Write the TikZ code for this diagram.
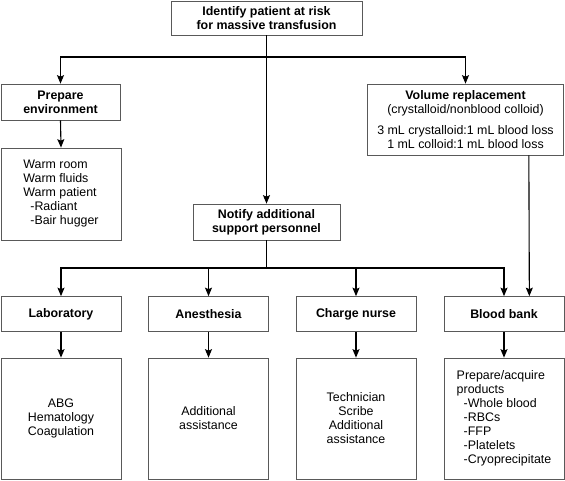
\documentclass[tikz,border=0pt]{standalone}
\usepackage{fontspec}
\setmainfont{Liberation Sans}
\usetikzlibrary{arrows.meta}

\begin{document}
\begin{tikzpicture}[x=1pt, y=-1pt,
    box/.style={draw=black!65, line width=0.7pt, rectangle, inner sep=2pt, align=center, font=\fontsize{12.4}{14}\selectfont},
    head/.style={box, font=\fontsize{12.4}{14}\selectfont\bfseries},
    arr/.style={line width=1.1pt, -{Stealth[length=8.5pt, width=7pt, inset=1.5pt]}}]
    \useasboundingbox (0,0) rectangle (565,480);
    % Top of the chart
    \node[head, minimum width=191pt, minimum height=34pt] (ident) at (266.5,18) {Identify patient at risk\\for massive transfusion};
    \node[head, minimum width=119pt, minimum height=36pt] (prep) at (60.5,102) {Prepare\\environment};
    \node[box, minimum width=120pt, minimum height=92pt, align=left] (warm) at (61,194)
      {Warm room\\Warm fluids\\Warm patient\\\hspace*{7pt}-Radiant\\\hspace*{7pt}-Bair hugger};
    \node[box, minimum width=196pt, minimum height=71pt] (vol) at (465.5,119.5)
      {\textbf{Volume replacement}\\(crystalloid/nonblood colloid)\\[7pt]3 mL crystalloid:1 mL blood loss\\1 mL colloid:1 mL blood loss};
    \node[head, minimum width=147pt, minimum height=36pt] (notify) at (266.5,222) {Notify additional\\support personnel};
    % Departments
    \node[head, minimum width=120pt, minimum height=35pt] (lab) at (61,314) {Laboratory};
    \node[head, minimum width=120pt, minimum height=35pt] (anes) at (208.5,314) {Anesthesia};
    \node[head, minimum width=120pt, minimum height=35pt] (charge) at (356,314) {Charge nurse};
    \node[head, minimum width=120pt, minimum height=35pt] (bank) at (504,314) {Blood bank};
    \node[box, minimum width=120pt, minimum height=121pt] (labtxt) at (61,418.5) {ABG\\Hematology\\Coagulation};
    \node[box, minimum width=120pt, minimum height=121pt] (anestxt) at (208.5,418.5) {Additional\\assistance};
    \node[box, minimum width=120pt, minimum height=121pt] (chargetxt) at (356,418.5) {Technician\\Scribe\\Additional\\assistance};
    \node[box, minimum width=120pt, minimum height=121pt, align=left] (banktxt) at (504,418.5)
      {Prepare/acquire\\products\\\hspace*{7pt}-Whole blood\\\hspace*{7pt}-RBCs\\\hspace*{7pt}-FFP\\\hspace*{7pt}-Platelets\\\hspace*{7pt}-Cryoprecipitate};
    % Connectors
    \coordinate (split1) at (266.5,57);
    \coordinate (split2) at (266.5,268);
    \draw[arr] (ident.south) -- (notify.north);
    \draw[arr] (split1) -| (prep.north);
    \draw[arr] (split1) -| (vol.north);
    \draw[arr] (prep.south) -- (warm.north);
    \draw[line width=1.1pt] (notify.south) -- (split2);
    \foreach \n in {lab,anes,charge,bank}{
      \draw[arr] (split2) -| (\n.north);
      \draw[arr] (\n.south) -- (\n txt.north);
    }
    \draw[arr] ([xshift=-35pt]vol.south east) -- ([xshift=-35pt]bank.north east);
  \end{tikzpicture}
\end{document}
